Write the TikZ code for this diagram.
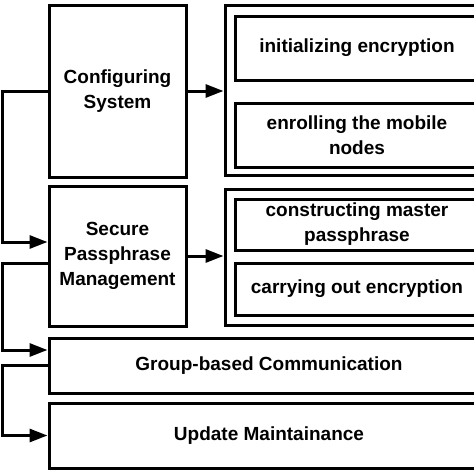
\documentclass[tikz,border=0pt]{standalone}
\usepackage{fontspec}
\setmainfont{Liberation Sans}
\usetikzlibrary{arrows.meta}
\begin{document}
\begin{tikzpicture}[x=1pt,y=-1pt,
  box/.style={draw=black,line width=3pt,inner sep=0pt,align=center,
    font=\bfseries\fontsize{19}{25}\selectfont},
  conn/.style={line width=3pt,line join=miter},
  arr/.style={conn,-{Triangle[length=18pt,width=13pt]}}]
\clip (0,0) rectangle (474,474);
\fill[white] (0,0) rectangle (474,474);
% left column
\node[box,minimum width=137pt,minimum height=172pt] (cfg) at (117.5,91) {Configuring\\System};
\node[box,minimum width=137pt,minimum height=140pt] (sec) at (117.5,256) {Secure\\Passphrase\\Management};
% right containers
\node[box,minimum width=264pt,minimum height=170pt] (out1) at (357,90) {};
\node[box,minimum width=244pt,minimum height=64pt] (in1) at (357,48) {initializing encryption};
\node[box,minimum width=244pt,minimum height=64pt] (in2) at (357,135) {enrolling the mobile\\nodes};
\node[box,minimum width=264pt,minimum height=136pt] (out2) at (357,257) {};
\node[box,minimum width=244pt,minimum height=51pt] (in3) at (357,224.5) {constructing master\\passphrase};
\node[box,minimum width=244pt,minimum height=52pt] (in4) at (357,289) {carrying out encryption};
% bottom boxes
\node[box,minimum width=440pt,minimum height=55pt] (grp) at (269,365.5) {Group-based Communication};
\node[box,minimum width=440pt,minimum height=65pt] (upd) at (269,435.5) {Update Maintainance};
% horizontal arrows
\draw[arr] (cfg.east) -- (cfg.east -| out1.west);
\draw[arr] (sec.east) -- (sec.east -| out2.west);
% left elbows
\coordinate (l1) at (2,91);
\coordinate (l2) at (2,263);
\coordinate (l3) at (2,365.5);
\draw[arr] (cfg.west) -- (l1) |- ([yshift=14pt]sec.west);
\draw[arr] ([yshift=-7pt]sec.west) -- (l2) |- ([yshift=15.5pt]grp.west);
\draw[arr] (grp.west) -- (l3) |- (upd.west);
\end{tikzpicture}
\end{document}
